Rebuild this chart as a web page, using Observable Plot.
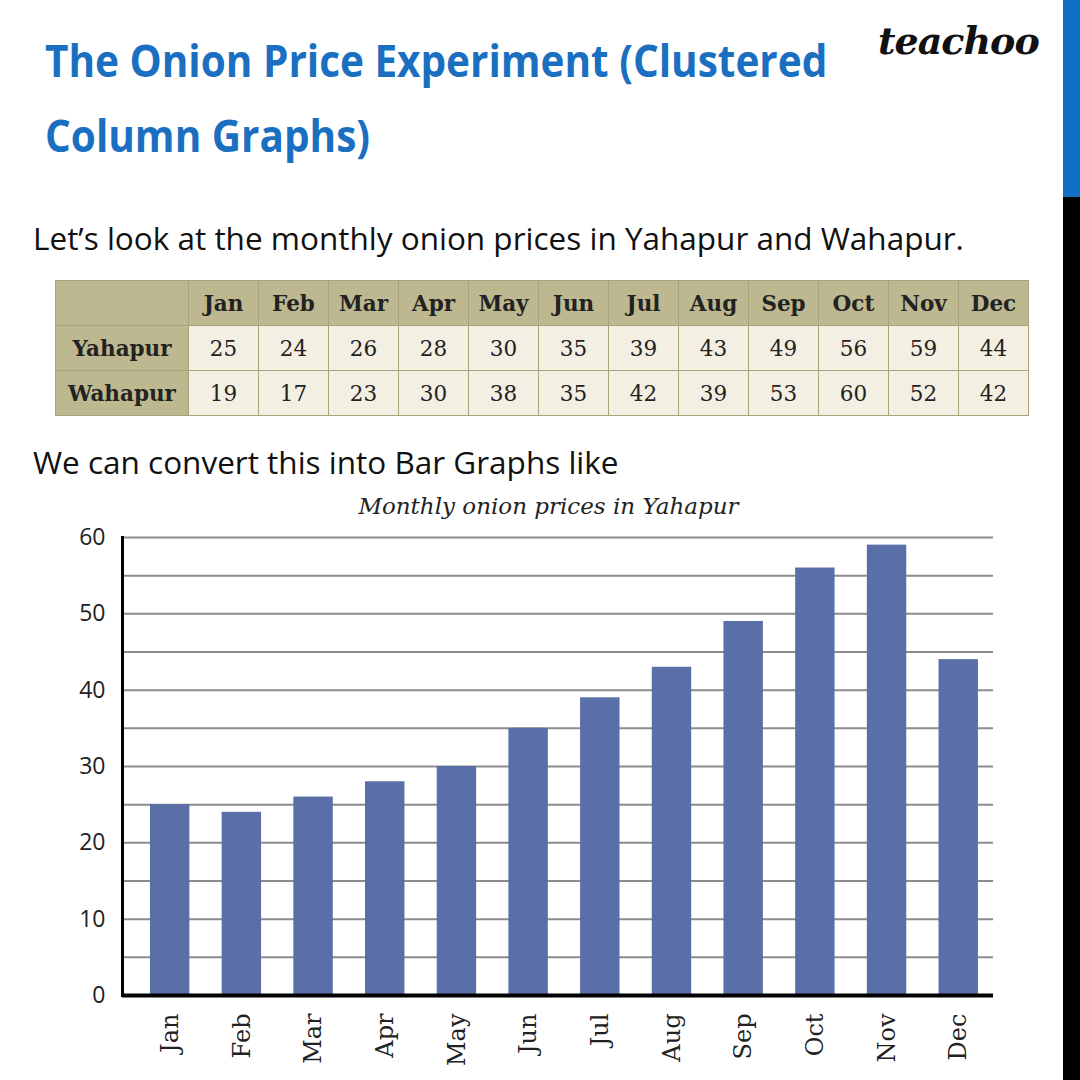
<!DOCTYPE html>
<html>
<head>
<meta charset="utf-8">
<script src="https://cdn.jsdelivr.net/npm/d3@7"></script>
<script src="https://cdn.jsdelivr.net/npm/@observablehq/plot@0.6"></script>
<style>
  html, body { margin: 0; padding: 0; background: #fff; }
  #page { position: relative; width: 1080px; height: 1080px; overflow: hidden; background: #fff; }
  .abs { position: absolute; }
  #title { left: 45px; top: 22px; font-family: "Open Sans", sans-serif; font-weight: 700; font-size: 45px; line-height: 75px; color: #1a6fc1; white-space: nowrap; }
  #title span { display: inline-block; transform: scaleX(0.9); transform-origin: left center; }
  #logo { left: 878px; top: 18px; font-family: "DejaVu Serif", serif; font-style: italic; font-weight: 700; font-size: 38px; color: #111; letter-spacing: -1px; }
  #barBlue { left: 1063px; top: 0; width: 17px; height: 197px; background: #1270c4; }
  #barBlack { left: 1063px; top: 197px; width: 17px; height: 883px; background: #000; }
  .para { left: 33px; font-family: "Open Sans", sans-serif; font-size: 31.5px; color: #111; white-space: nowrap; }
  #intro { top: 216px; }
  #convert { top: 440px; }
  #prices { left: 55px; top: 280px; border-collapse: collapse; font-family: "DejaVu Serif", serif; font-size: 21.5px; color: #222; }
  #prices td, #prices th { border: 1.5px solid #a9a37c; text-align: center; padding: 0; }
  #prices th { background: #bdb88f; font-weight: 700; height: 44px; }
  #prices td { background: #f3efe2; height: 42px; width: 69px; }
  #prices th.row { width: 132px; }
  #chartTitle { left: 113px; width: 871px; top: 493px; text-align: center; font-family: "DejaVu Serif", serif; font-style: italic; font-size: 23px; color: #222; }
  #chart { left: 0; top: 520px; }
</style>
</head>
<body>
<div id="page">
  <div id="title" class="abs"><span>The Onion Price Experiment (Clustered</span><br><span>Column Graphs)</span></div>
  <div id="logo" class="abs">teachoo</div>
  <div id="barBlue" class="abs"></div>
  <div id="barBlack" class="abs"></div>
  <div id="intro" class="abs para">Let’s look at the monthly onion prices in Yahapur and Wahapur.</div>
  <table id="prices" class="abs"></table>
  <div id="convert" class="abs para">We can convert this into Bar Graphs like</div>
  <div id="chartTitle" class="abs">Monthly onion prices in Yahapur</div>
  <div id="chart" class="abs"></div>
</div>
<script>
// Monthly onion prices for the two towns
const months = ["Jan", "Feb", "Mar", "Apr", "May", "Jun", "Jul", "Aug", "Sep", "Oct", "Nov", "Dec"];
const towns = ["Yahapur", "Wahapur"];
const yahapur = [25, 24, 26, 28, 30, 35, 39, 43, 49, 56, 59, 44];
const wahapur = [19, 17, 23, 30, 38, 35, 42, 39, 53, 60, 52, 42];
const yTicks = [0, 10, 20, 30, 40, 50, 60];
const gridTicks = [5, 10, 15, 20, 25, 30, 35, 40, 45, 50, 55, 60];

// Price table
const table = d3.select("#prices");
const head = table.append("tr");
head.append("th").attr("class", "row");
months.forEach(m => head.append("th").text(m));
[yahapur, wahapur].forEach((vals, r) => {
  const tr = table.append("tr");
  tr.append("th").attr("class", "row").text(towns[r]);
  vals.forEach(v => tr.append("td").text(v));
});

// Column chart of Yahapur prices
const rows = months.map((m, i) => ({month: m, price: yahapur[i]}));

const chart = Plot.plot({
  width: 1080,
  height: 560,
  marginLeft: 122,
  marginRight: 87,
  marginTop: 17,
  marginBottom: 85,
  style: {background: "transparent", overflow: "visible"},
  x: {domain: months, paddingInner: 0.45, paddingOuter: 0.3, align: 0.65, round: false, label: null},
  y: {domain: [0, 60], label: null},
  marks: [
    Plot.gridY(gridTicks, {stroke: "#8c8c8c", strokeOpacity: 1, strokeWidth: 2}),
    Plot.barY(rows, {x: "month", y: "price", fill: "#5a6ea8"}),
    Plot.ruleY([0], {stroke: "#000", strokeWidth: 4}),
    Plot.frame({anchor: "left", stroke: "#000", strokeWidth: 3}),
    Plot.axisY(yTicks, {tickSize: 0, tickPadding: 17, fontSize: 23, fontFamily: "Open Sans, sans-serif", fill: "#222"}),
    Plot.axisX({tickSize: 0, tickPadding: 18, tickRotate: -90, fontSize: 24, fontFamily: "DejaVu Serif, serif", fill: "#222"})
  ]
});
document.getElementById("chart").appendChild(chart);
</script>
</body>
</html>
